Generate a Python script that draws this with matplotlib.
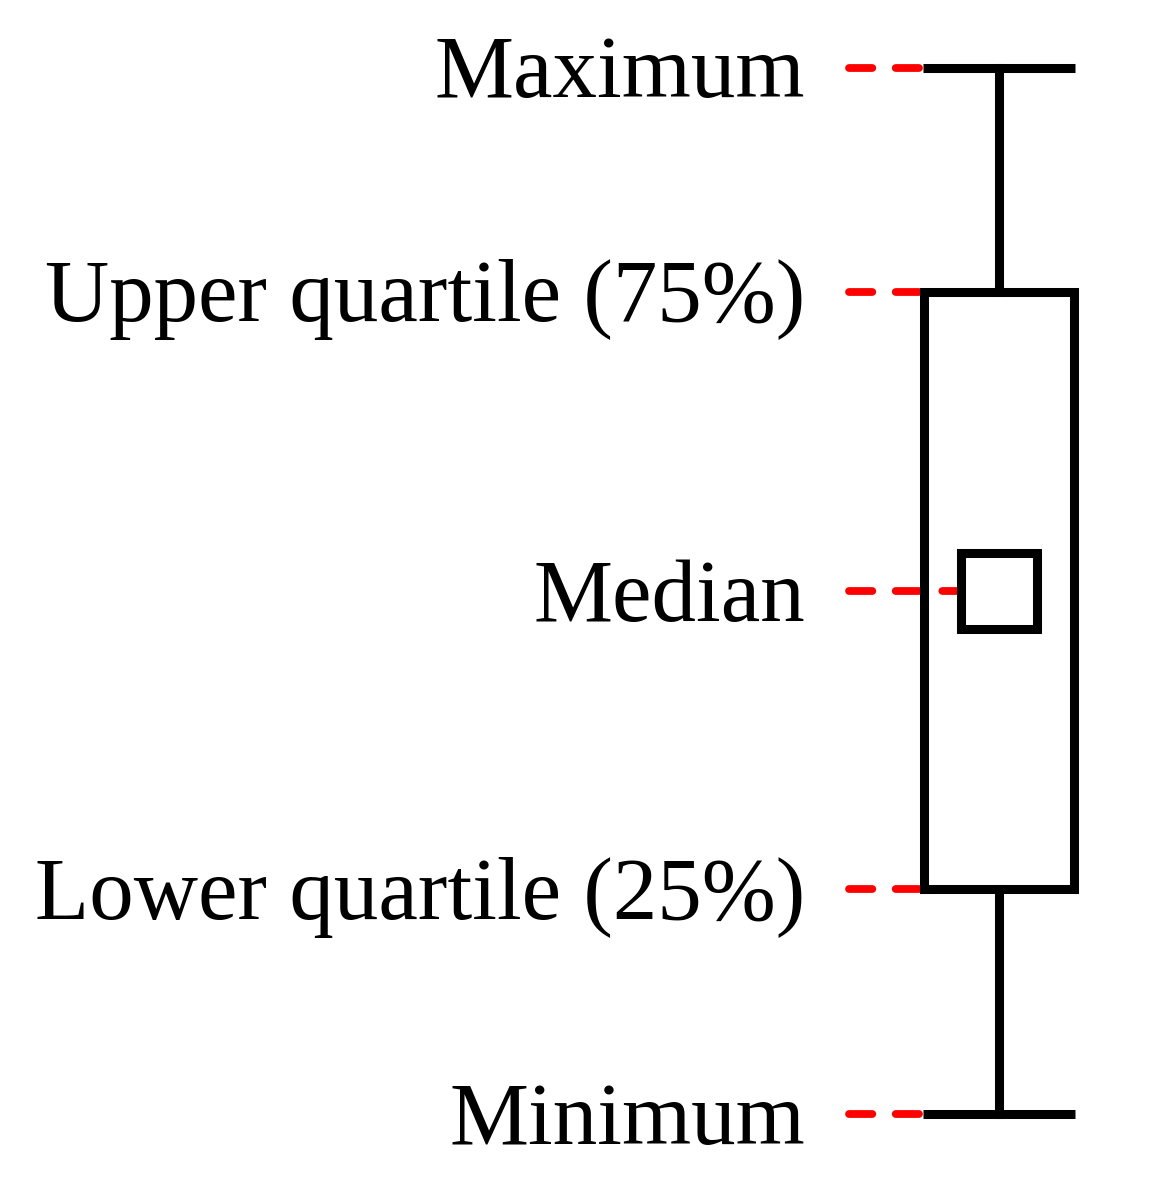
import matplotlib
matplotlib.use("Agg")
import matplotlib.pyplot as plt
import matplotlib.transforms as mtransforms

# Data (five-number summary, arbitrary units)
labels = ["Minimum", "Lower quartile (25%)", "Median", "Upper quartile (75%)", "Maximum"]
values = [0.0, 2.15, 5.0, 7.86, 10.0]
box_x = 999

fig = plt.figure(figsize=(11.57, 11.95), dpi=100)
ax = fig.add_axes([0, 0, 1, 1])
ax.set_xlim(0, 1157)
ax.set_ylim(-0.774, 10.65)
ax.axis("off")

lw_black = 6.5
stats = [dict(whislo=values[0], q1=values[1], med=values[2], q3=values[3], whishi=values[4], fliers=[])]
ax.bxp(stats, positions=[box_x], widths=[150], capwidths=[152], showfliers=False,
       boxprops=dict(color="black", linewidth=lw_black, solid_joinstyle="miter"),
       whiskerprops=dict(color="black", linewidth=lw_black),
       capprops=dict(color="black", linewidth=lw_black, solid_capstyle="butt"),
       medianprops=dict(linestyle="none"), manage_ticks=False, zorder=3)

# Median square marker
ax.plot([box_x], [values[2]], marker="s", markersize=55, markerfacecolor="white",
        markeredgecolor="black", markeredgewidth=lw_black, linestyle="none", zorder=4)

# Red dashed leader lines
ends = [923, 923, 960, 923, 923]
for v, e in zip(values, ends):
    ax.plot([849, e], [v, v], color="red", linewidth=5.6, dashes=(3, 3),
            dash_capstyle="round", zorder=2)

# Labels
trans = mtransforms.offset_copy(ax.transData, fig=fig, y=-29.5, units="dots")
for v, lab in zip(values, labels):
    ax.text(805, v, lab, transform=trans, ha="right", va="baseline",
            fontsize=64, family=["Liberation Serif", "DejaVu Serif"], color="black")

fig.savefig("out.png", dpi=100)
